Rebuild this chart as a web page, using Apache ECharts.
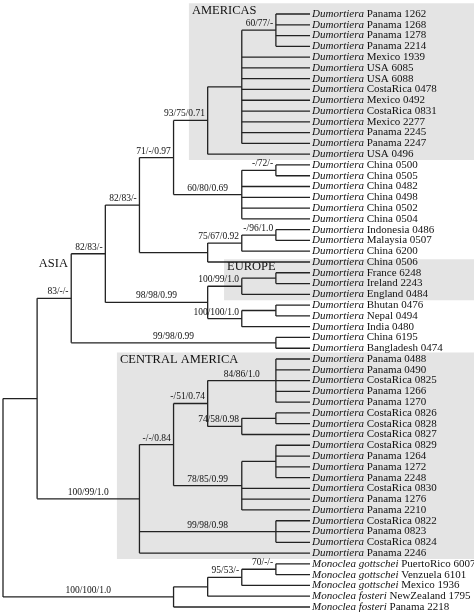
<!DOCTYPE html>
<html>
<head>
<meta charset="utf-8">
<script src="https://cdn.jsdelivr.net/npm/echarts@6/dist/echarts.min.js"></script>
<style>html,body{margin:0;padding:0;background:#fff}#main{width:474px;height:613px}</style>
</head>
<body>
<div id="main"></div>
<script>
// internal nodes: [id, parent, level, support]
const nodes = [
  ['root', null, 0, ''],
  ['dum', 'root', 1, ''],
  ['asia', 'dum', 2, '83/-/-'],
  ['a105', 'asia', 3, '82/83/-'],
  ['a139', 'a105', 4, '82/83/-'],
  ['a173', 'a139', 5, '71/-/0.97'],
  ['amer', 'a173', 6, '93/75/0.71'],
  ['amer2', 'amer', 7, ''],
  ['amer3', 'amer2', 8, '60/77/-'],
  ['china', 'a173', 7, '60/80/0.69'],
  ['china2', 'china', 8, '-/72/-'],
  ['indo', 'a139', 6, ''],
  ['indo2', 'indo', 7, '75/67/0.92'],
  ['indo3', 'indo2', 8, '-/96/1.0'],
  ['eb', 'a105', 6, '98/98/0.99'],
  ['eur', 'eb', 7, '100/99/1.0'],
  ['eur2', 'eur', 8, ''],
  ['bhu', 'eb', 7, '100/100/1.0'],
  ['bhu2', 'bhu', 8, ''],
  ['cb', 'asia', 8, '99/98/0.99'],
  ['ca', 'dum', 4, '100/99/1.0'],
  ['ca1', 'ca', 5, '-/-/0.84'],
  ['ca2', 'ca1', 6, '-/51/0.74'],
  ['ca3', 'ca2', 8, '84/86/1.0'],
  ['ca4', 'ca2', 7, '74/58/0.98'],
  ['ca5', 'ca4', 8, ''],
  ['ca6', 'ca1', 7, '78/85/0.99'],
  ['ca7', 'ca6', 8, ''],
  ['ca8', 'ca', 8, '99/98/0.98'],
  ['mono', 'root', 5, '100/100/1.0'],
  ['mono2', 'mono', 6, ''],
  ['mono3', 'mono2', 7, '95/53/-'],
  ['mono4', 'mono3', 8, '70/-/-']
];

// leaves top to bottom: [genus, rest, parent]
const leaves = [
  ['Dumortiera', 'Panama 1262', 'amer3'], ['Dumortiera', 'Panama 1268', 'amer3'],
  ['Dumortiera', 'Panama 1278', 'amer3'], ['Dumortiera', 'Panama 2214', 'amer3'],
  ['Dumortiera', 'Mexico 1939', 'amer2'], ['Dumortiera', 'USA 6085', 'amer2'],
  ['Dumortiera', 'USA 6088', 'amer2'], ['Dumortiera', 'CostaRica 0478', 'amer2'],
  ['Dumortiera', 'Mexico 0492', 'amer2'], ['Dumortiera', 'CostaRica 0831', 'amer2'],
  ['Dumortiera', 'Mexico 2277', 'amer2'], ['Dumortiera', 'Panama 2245', 'amer2'],
  ['Dumortiera', 'Panama 2247', 'amer2'], ['Dumortiera', 'USA 0496', 'amer'],
  ['Dumortiera', 'China 0500', 'china2'], ['Dumortiera', 'China 0505', 'china2'],
  ['Dumortiera', 'China 0482', 'china'], ['Dumortiera', 'China 0498', 'china'],
  ['Dumortiera', 'China 0502', 'china'], ['Dumortiera', 'China 0504', 'china'],
  ['Dumortiera', 'Indonesia 0486', 'indo3'], ['Dumortiera', 'Malaysia 0507', 'indo3'],
  ['Dumortiera', 'China 6200', 'indo2'], ['Dumortiera', 'China 0506', 'indo'],
  ['Dumortiera', 'France 6248', 'eur2'], ['Dumortiera', 'Ireland 2243', 'eur2'],
  ['Dumortiera', 'England 0484', 'eur'],
  ['Dumortiera', 'Bhutan 0476', 'bhu2'], ['Dumortiera', 'Nepal 0494', 'bhu2'],
  ['Dumortiera', 'India 0480', 'bhu'],
  ['Dumortiera', 'China 6195', 'cb'], ['Dumortiera', 'Bangladesh 0474', 'cb'],
  ['Dumortiera', 'Panama 0488', 'ca3'], ['Dumortiera', 'Panama 0490', 'ca3'],
  ['Dumortiera', 'CostaRica 0825', 'ca3'], ['Dumortiera', 'Panama 1266', 'ca3'],
  ['Dumortiera', 'Panama 1270', 'ca3'],
  ['Dumortiera', 'CostaRica 0826', 'ca5'], ['Dumortiera', 'CostaRica 0828', 'ca5'],
  ['Dumortiera', 'CostaRica 0827', 'ca4'],
  ['Dumortiera', 'CostaRica 0829', 'ca7'], ['Dumortiera', 'Panama 1264', 'ca7'],
  ['Dumortiera', 'Panama 1272', 'ca7'], ['Dumortiera', 'Panama 2248', 'ca7'],
  ['Dumortiera', 'CostaRica 0830', 'ca6'], ['Dumortiera', 'Panama 1276', 'ca6'],
  ['Dumortiera', 'Panama 2210', 'ca6'],
  ['Dumortiera', 'CostaRica 0822', 'ca8'], ['Dumortiera', 'Panama 0823', 'ca8'],
  ['Dumortiera', 'CostaRica 0824', 'ca8'], ['Dumortiera', 'Panama 2246', 'ca'],
  ['Monoclea gottschei', 'PuertoRico 6007', 'mono4'], ['Monoclea gottschei', 'Venzuela 6101', 'mono4'],
  ['Monoclea gottschei', 'Mexico 1936', 'mono3'], ['Monoclea fosteri', 'NewZealand 1795', 'mono2'],
  ['Monoclea fosteri', 'Panama 2218', 'mono']
];

// shaded clades: [label, first leaf row, last leaf row]
const clades = [['AMERICAS', 0, 13], ['EUROPE', 24, 26], ['CENTRAL AMERICA', 32, 50]];
const LEAF_LEVEL = 9;

// layout
const byId = {};
nodes.forEach(n => { byId[n[0]] = {id: n[0], parent: n[1], level: n[2], support: n[3], kids: []}; });
leaves.forEach((l, i) => { byId[l[2]].kids.push(i); });
nodes.forEach(n => { if (n[1]) byId[n[1]].kids.push(n[0]); });
function rowOf(k) {
  if (typeof k === 'number') return k;
  const n = byId[k];
  if (n.row == null) {
    const rows = n.kids.map(rowOf);
    n.min = Math.min(...rows); n.max = Math.max(...rows);
    n.row = (n.min + n.max) / 2;
  }
  return n.row;
}
rowOf('root');

const segs = [];
leaves.forEach((l, i) => segs.push([byId[l[2]].level, i, LEAF_LEVEL, i]));
nodes.forEach(n => {
  const o = byId[n[0]];
  if (o.parent) segs.push([byId[o.parent].level, o.row, o.level, o.row]);
  segs.push([o.level, o.min, o.level, o.max]);
});
const supports = nodes.filter(n => n[3]).map(n => {
  const o = byId[n[0]], pl = byId[o.parent].level;
  return [pl, o.level, o.row, o.support];
});

const FONT = '"Liberation Serif", "DejaVu Serif", serif';
const chart = echarts.init(document.getElementById('main'));
chart.setOption({
  animation: false,
  grid: {left: 3, top: 14, width: 307, height: 593},
  xAxis: {type: 'value', min: 0, max: 9, show: false},
  yAxis: {type: 'value', min: 0, max: 55, inverse: true, show: false},
  series: [
    {
      type: 'custom', clip: false, z: 1,
      data: clades.map((c, i) => [i, c[1], c[2]]),
      renderItem: function (params, api) {
        const c = clades[api.value(0)];
        const boxLeft = {AMERICAS: 5.45, EUROPE: 6.48, 'CENTRAL AMERICA': 3.34}[c[0]];
        const top = c[1] - {AMERICAS: 1.0, EUROPE: 1.25, 'CENTRAL AMERICA': 0.6}[c[0]];
        const p1 = api.coord([boxLeft, top]);
        const p2 = api.coord([boxLeft, c[2] + 0.55]);
        return {
          type: 'group',
          children: [
            {type: 'rect', shape: {x: p1[0], y: p1[1], width: 474 - p1[0], height: p2[1] - p1[1]},
             style: {fill: '#e4e4e4'}},
            {type: 'text', style: {x: p1[0] + 3, y: p1[1] + 1, text: c[0], font: '12.5px ' + FONT,
             fill: '#111', textVerticalAlign: 'top'}}
          ]
        };
      }
    },
    {
      type: 'custom', clip: false, z: 2,
      data: segs,
      renderItem: function (params, api) {
        const a = api.coord([api.value(0), api.value(1)]);
        const b = api.coord([api.value(2), api.value(3)]);
        return {type: 'line', shape: {x1: a[0], y1: a[1], x2: b[0], y2: b[1]},
                style: {stroke: '#222', lineWidth: 1.3}};
      }
    },
    {
      type: 'custom', clip: false, z: 3,
      data: leaves.map((l, i) => [LEAF_LEVEL, i]),
      renderItem: function (params, api) {
        const l = leaves[params.dataIndex];
        const p = api.coord([api.value(0), api.value(1)]);
        return {type: 'text', style: {x: p[0] + 2, y: p[1], text: '{i|' + l[0] + '} ' + l[1],
          font: '11px ' + FONT, fill: '#111', textVerticalAlign: 'middle',
          rich: {i: {fontStyle: 'italic', fontSize: 11, fontFamily: FONT}}}};
      }
    },
    {
      type: 'custom', clip: false, z: 3,
      data: supports,
      renderItem: function (params, api) {
        const pl = api.value(0), lv = api.value(1), row = api.value(2);
        const txt = supports[params.dataIndex][3];
        const long = lv - pl >= 2;
        const p = api.coord([long ? (pl + lv) / 2 : lv - 0.08, row]);
        return {type: 'text', style: {x: p[0], y: p[1] - 1.5, text: txt, font: '9.5px ' + FONT,
          fill: '#111', textAlign: long ? 'center' : 'right', textVerticalAlign: 'bottom'}};
      }
    },
    {
      type: 'custom', clip: false, z: 3,
      data: [[1.05, byId.asia.row - 2.6]],
      renderItem: function (params, api) {
        const p = api.coord([api.value(0), api.value(1)]);
        return {type: 'text', style: {x: p[0], y: p[1], text: 'ASIA', font: '12.5px ' + FONT,
          fill: '#111', textVerticalAlign: 'bottom'}};
      }
    }
  ]
});
</script>
</body>
</html>
